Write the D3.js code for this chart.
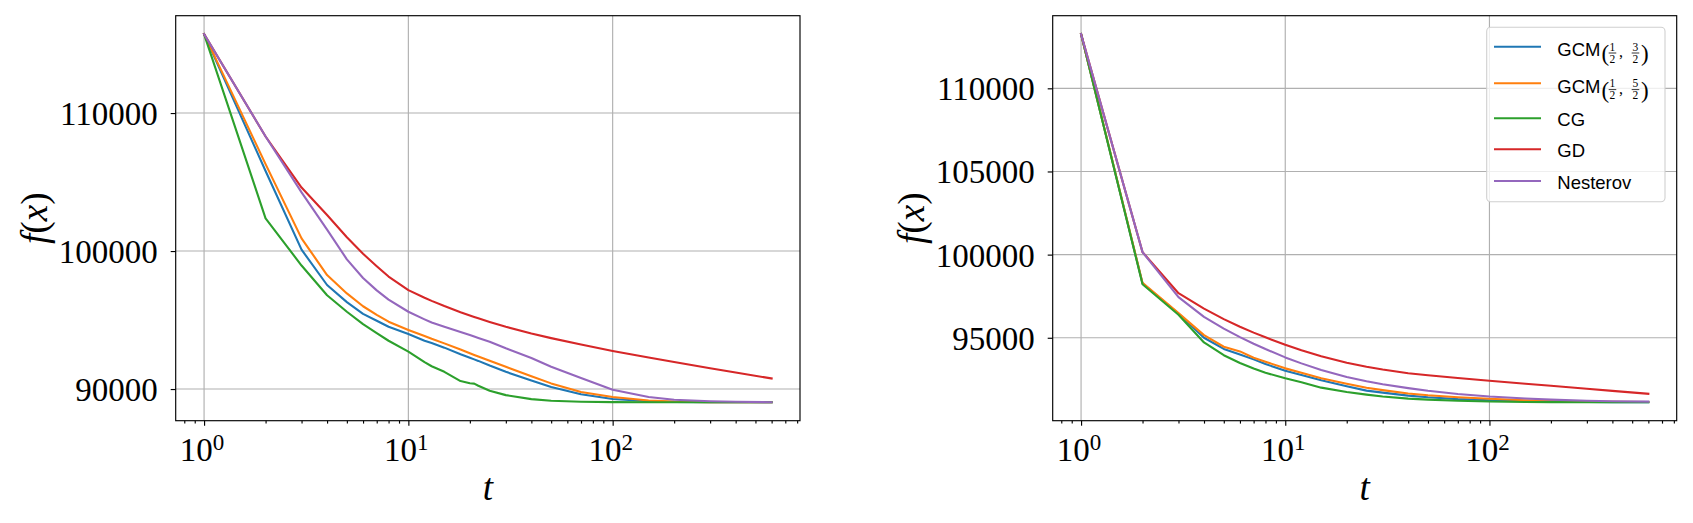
<!DOCTYPE html>
<html><head><meta charset="utf-8">
<script src="https://cdn.jsdelivr.net/npm/d3@7"></script>
<style>body{margin:0;background:#fff}svg{display:block}</style>
</head><body>
<svg id="c" width="1693" height="523"></svg>
<script>
// ---------- data ----------
const tLeft = [1,2,3,4,5,6,7,8,10,12,13,15,18,20,21,22,25,30,40,50,70,100,150,200,300,400,600];
const gcm32Left = [115720,105800,100100,97540,96300,95450,94950,94510,93990,93500,93330,93000,92520,92270,92150,92040,91700,91250,90620,90150,89620,89280,89110,89065,89048,89042,89040];
const gcm52Left = [115720,106300,100920,98260,96930,96000,95380,94880,94280,93840,93640,93310,92860,92590,92470,92360,92050,91620,90920,90410,89780,89420,89170,89090,89050,89042,89040];
const cgLeft    = [115720,102370,98950,96800,95600,94700,94050,93500,92710,91950,91650,91250,90580,90420,90390,90240,89880,89560,89270,89150,89080,89055,89045,89041,89040,89040,89040];
const gdLeft    = [115720,108300,104600,102610,101000,99800,98900,98150,97170,96616,96390,96011,95568,95330,95224,95125,94864,94516,94029,93690,93222,92757,92282,91957,91508,91196,90765];
const nestLeft  = [115720,108300,104250,101550,99400,98050,97150,96480,95600,95050,94820,94520,94130,93910,93800,93700,93430,92950,92250,91620,90800,89950,89420,89220,89115,89075,89045];

const tRight = [1,2,3,4,5,6,7,8,10,12,15,20,25,30,40,50,70,100,150,200,300,400,600];
const gcm32Right = [113260,98260,96440,95000,94330,94000,93700,93420,93020,92760,92440,92080,91820,91700,91520,91420,91310,91240,91180,91160,91140,91130,91120];
const gcm52Right = [113260,98300,96480,95160,94460,94180,93800,93560,93160,92900,92560,92230,91990,91850,91650,91540,91420,91330,91240,91200,91170,91150,91140];
const cgRight    = [113260,98220,96380,94720,93950,93480,93150,92900,92560,92330,92000,91740,91580,91470,91340,91280,91210,91170,91140,91130,91125,91122,91120];
const gdRight    = [113260,100150,97680,96753,96123,95665,95310,95026,94580,94247,93888,93501,93259,93093,92868,92742,92581,92418,92233,92110,91934,91809,91633];
const nestRight  = [113260,100150,97440,96260,95550,95040,94640,94320,93820,93460,93060,92640,92390,92210,91970,91810,91620,91470,91350,91280,91210,91185,91160];

const seriesNames = ["GCM", "GCM", "CG", "GD", "Nesterov"];
const fracNumerators = ["3", "5"];
const colors = ["#1f77b4","#ff7f0e","#2ca02c","#d62728","#9467bd"];
const yTicksLeft = [90000, 100000, 110000];
const yTicksRight = [95000, 100000, 105000, 110000];
const xMajorTicks = [1, 10, 100];
const xTickExponents = ["0", "1", "2"];

// ---------- drawing ----------
const svg = d3.select("#c");
const SERIF = "'Liberation Serif', 'DejaVu Serif', serif";
const SANS = "'Liberation Sans', Arial, sans-serif";

function panel(cfg, idx) {
  const {x0, x1, y0, y1, t, series, yTicks, ylabX} = cfg;
  const lo = Math.log10(d3.min(t)), hi = Math.log10(d3.max(t)), m = 0.05 * (hi - lo);
  const x = d3.scaleLog().domain([10 ** (lo - m), 10 ** (hi + m)]).range([x0, x1]);
  const all = series.flat();
  const vmin = d3.min(all), vmax = d3.max(all), vm = 0.05 * (vmax - vmin);
  const y = d3.scaleLinear().domain([vmin - vm, vmax + vm]).range([y1, y0]);
  const g = svg.append("g");

  // grid
  g.selectAll(".gx").data(xMajorTicks).join("line")
    .attr("x1", d => x(d)).attr("x2", d => x(d)).attr("y1", y0).attr("y2", y1)
    .attr("stroke", "#b0b0b0").attr("stroke-width", 1.15);
  g.selectAll(".gy").data(yTicks).join("line")
    .attr("y1", d => y(d)).attr("y2", d => y(d)).attr("x1", x0).attr("x2", x1)
    .attr("stroke", "#b0b0b0").attr("stroke-width", 1.15);

  // lines
  const clipId = "clip" + idx;
  svg.append("clipPath").attr("id", clipId).append("rect")
    .attr("x", x0).attr("y", y0).attr("width", x1 - x0).attr("height", y1 - y0);
  const line = d3.line().x(d => x(d[0])).y(d => y(d[1]));
  const lg = g.append("g").attr("clip-path", `url(#${clipId})`);
  series.forEach((s, i) => {
    lg.append("path").datum(t.map((tt, j) => [tt, s[j]]))
      .attr("d", line).attr("fill", "none").attr("stroke", colors[i])
      .attr("stroke-width", 2.1).attr("stroke-linejoin", "round").attr("stroke-linecap", "square");
  });

  // x axis ticks
  const minor = x.ticks().filter(d => Math.abs(Math.log10(d) - Math.round(Math.log10(d))) > 1e-9);
  const axMinor = d3.axisBottom(x).tickValues(minor).tickSize(2.9).tickFormat("");
  const axMajor = d3.axisBottom(x).tickValues(xMajorTicks).tickSize(5).tickFormat("");
  [axMinor, axMajor].forEach(ax => {
    const a = g.append("g").attr("transform", `translate(0,${y1})`).call(ax);
    a.select(".domain").remove();
    a.selectAll("line").attr("stroke", "#000").attr("stroke-width", 1.15);
  });
  xMajorTicks.forEach((d, i) => {
    const tx = g.append("text").attr("x", x(d) - 2).attr("y", y1 + 40)
      .attr("text-anchor", "middle").style("font-family", SERIF).style("font-size", "33px").attr("fill", "#000");
    tx.append("tspan").text("10");
    tx.append("tspan").attr("dy", -11).style("font-size", "23px").text(xTickExponents[i]);
  });

  // y axis ticks
  const axY = d3.axisLeft(y).tickValues(yTicks).tickSize(5).tickFormat("");
  const ay = g.append("g").attr("transform", `translate(${x0},0)`).call(axY);
  ay.select(".domain").remove();
  ay.selectAll("line").attr("stroke", "#000").attr("stroke-width", 1.15);
  yTicks.forEach(d => {
    g.append("text").attr("x", x0 - 18).attr("y", y(d) + 12).attr("text-anchor", "end")
      .style("font-family", SERIF).style("font-size", "33px").attr("fill", "#000").text(d);
  });

  // spine
  g.append("rect").attr("x", x0).attr("y", y0).attr("width", x1 - x0).attr("height", y1 - y0)
    .attr("fill", "none").attr("stroke", "#000").attr("stroke-width", 1.15);

  // axis labels
  g.append("text").attr("x", (x0 + x1) / 2).attr("y", y1 + 79).attr("text-anchor", "middle")
    .style("font-family", SERIF).style("font-size", "37px").style("font-style", "italic").text("t");
  const yl = g.append("text").attr("transform", `translate(${ylabX},${(y0 + y1) / 2}) rotate(-90)`)
    .attr("text-anchor", "middle").style("font-family", SERIF).style("font-size", "37px");
  yl.append("tspan").style("font-style", "italic").text("f");
  yl.append("tspan").text("(");
  yl.append("tspan").style("font-style", "italic").text("x");
  yl.append("tspan").text(")");
  return {x, y, g};
}

panel({x0: 175.7, x1: 800, y0: 15.7, y1: 420.7, t: tLeft,
  series: [gcm32Left, gcm52Left, cgLeft, gdLeft, nestLeft], yTicks: yTicksLeft, ylabX: 47}, 0);
panel({x0: 1052.7, x1: 1676.7, y0: 15.7, y1: 420.7, t: tRight,
  series: [gcm32Right, gcm52Right, cgRight, gdRight, nestRight], yTicks: yTicksRight, ylabX: 924}, 1);

// legend
const leg = svg.append("g");
leg.append("rect").attr("x", 1486.7).attr("y", 27.3).attr("width", 178.3).attr("height", 174.4)
  .attr("rx", 4).attr("fill", "#fff").attr("fill-opacity", 0.8).attr("stroke", "#d0d0d0").attr("stroke-width", 1.1);
const entryY = [46.7, 83.3, 118.3, 149.3, 181];
seriesNames.forEach((name, i) => {
  const ly = entryY[i];
  leg.append("line").attr("x1", 1494).attr("x2", 1541).attr("y1", ly).attr("y2", ly)
    .attr("stroke", colors[i]).attr("stroke-width", 2.1);
  const yb = ly + (i < 2 ? 9.3 : 7.5);
  const tx = leg.append("text").attr("x", 1557.3).attr("y", yb)
    .style("font-family", SANS).style("font-size", "18.5px").attr("fill", "#000").text(name);
  if (i < 2) {
    let cx = 1557.3 + tx.node().getComputedTextLength() + 1;
    const put = (s, xx, yy, size, anchor) => leg.append("text").attr("x", xx).attr("y", yy)
      .attr("text-anchor", anchor || "start").style("font-family", SERIF).style("font-size", size + "px").text(s);
    put("(", cx, yb + 5, 23);
    cx += 7.5;
    const frac = (n, d, c) => {
      put(n, c, yb - 5.5, 11.5, "middle");
      leg.append("line").attr("x1", c - 3.8).attr("x2", c + 3.8).attr("y1", yb - 3).attr("y2", yb - 3)
        .attr("stroke", "#000").attr("stroke-width", 0.8);
      put(d, c, yb + 6.5, 11.5, "middle");
    };
    frac("1", "2", cx + 3.5);
    cx += 9;
    put(",", cx + 1, yb + 1, 16);
    cx += 14;
    frac(fracNumerators[i], "2", cx + 3.5);
    cx += 9;
    put(")", cx, yb + 5, 23);
  }
});
</script>
</body></html>
